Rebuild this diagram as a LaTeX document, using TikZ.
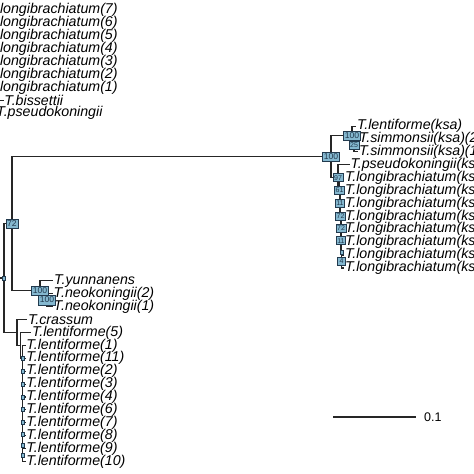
\documentclass[tikz,border=0pt]{standalone}
\usepackage{fontspec}
\setmainfont{Liberation Sans}
\definecolor{myboxblue}{RGB}{132,184,208}
\definecolor{myboxline}{RGB}{34,58,78}
\usetikzlibrary{positioning,calc}

\begin{document}
\begin{tikzpicture}[
  x=1pt, y=-1pt,
  branch/.style={draw=black!85, line width=1.1pt},
  taxon/.style={
    anchor=west,
    inner sep=0pt,
    font=\fontsize{14.2}{15}\selectfont\itshape
    },
  boot/.style={
    draw=myboxline,
    fill=myboxblue,
    line width=0.7pt,
    inner sep=1.2pt,
    text height=6.2pt,
    text depth=0.8pt,
    text=myboxline,
    font=\fontsize{8.6}{9}\selectfont
    },
  bootsm/.style={boot, inner sep=1pt, minimum width=8pt, text height=5.4pt, text depth=0.6pt, font=\fontsize{7}{7}\selectfont},
  tick/.style={draw=myboxline, fill=myboxblue, line width=0.6pt, inner sep=0pt, minimum width=3pt, minimum height=4pt}
]
\useasboundingbox (0,0) rectangle (474,474);
\clip (0,0) rectangle (474,474);

% taxa cut off at the left edge
\foreach \Num [count=\Rowi from 0] in {7,6,5,4,3,2,1}
  \node[taxon] (lbr\Num) at (-11.5, {10+12.9*\Rowi}) {T.longibrachiatum(\Num)};
\coordinate (bisin) at (-2,100.3);
\coordinate (bis) at (3.6,100.3);
\draw[branch] (bisin) -- (bis);
\node[taxon] (bislab) at (4.2,100.3) {T.bissettii};
\node[taxon] (pslab) at (-3.8,113.2) {T.pseudokoningii};

% backbone
\coordinate (rootin) at (-2,278);
\coordinate (root) at (4,278);
\coordinate (s72) at (12,223.6);
\coordinate (rr) at (331,156.7);
\coordinate (m100) at (40,290.6);
\coordinate (n1) at (17,332.5);
\draw[branch] (rootin) -- (root);
\draw[branch] (root) |- (s72);
\draw[branch] (root) |- (n1);
\draw[branch] (s72) |- (rr);
\draw[branch] (s72) |- (m100);

% right clade
\coordinate (r100) at (352,135.8);
\coordinate (r25) at (354,145.45);
\coordinate (tlk) at (356,126.1);
\coordinate (ts2) at (358,139);
\coordinate (ts1) at (358,151.9);
\coordinate (tpk) at (349.5,164.8);
\draw[branch] (rr) |- (r100);
\draw[branch] (r100) |- (tlk);
\draw[branch] (r100) |- (r25);
\draw[branch] (r25) |- (ts2);
\draw[branch] (r25) |- (ts1);

\foreach \Name/\X/\Y in {ra/338/177.6, rb/339.5/190.5, rc/340/203.3, rd/340.5/216,
  re/341/228.5, rf/341/240.6, rg/341.5/251.9, rh/341.5/261.55}
  \coordinate (\Name) at (\X,\Y);
\foreach \Tipi in {1,...,8}
  \coordinate (tlg\Tipi) at (344, {164.8+12.9*\Tipi});
\draw[branch] (rr) |- (ra);
\foreach \Here/\Up/\Down in {ra/tpk/rb, rb/tlg1/rc, rc/tlg2/rd, rd/tlg3/re,
  re/tlg4/rf, rf/tlg5/rg, rg/tlg6/rh, rh/tlg7/tlg8}
  \draw[branch] (\Here) |- (\Up) (\Here) |- (\Down);

\node[taxon] at ([xshift=0.8pt]tlk) {T.lentiforme(ksa)};
\node[taxon] at ([xshift=0.8pt]ts2) {T.simmonsii(ksa)(2)};
\node[taxon] at ([xshift=0.8pt]ts1) {T.simmonsii(ksa)(1)};
\node[taxon] at ([xshift=0.8pt]tpk) {T.pseudokoningii(ksa)};
\foreach \Tipi in {1,...,8}
  \node[taxon] at ([xshift=0.8pt]tlg\Tipi) {T.longibrachiatum(ksa)};

% middle clade
\coordinate (m100b) at (47,300.25);
\coordinate (tyn) at (53,280.9);
\coordinate (tnk2) at (53,293.8);
\coordinate (tnk1) at (53,306.7);
\draw[branch] (m100) |- (tyn);
\draw[branch] (m100) |- (m100b);
\draw[branch] (m100b) |- (tnk2);
\draw[branch] (m100b) |- (tnk1);
\node[taxon] at ([xshift=1pt]tyn) {T.yunnanens};
\node[taxon] at ([xshift=0.5pt]tnk2) {T.neokoningii(2)};
\node[taxon] at ([xshift=0.5pt]tnk1) {T.neokoningii(1)};

% bottom clade
\coordinate (n2) at (20.5,345.4);
\coordinate (tcr) at (27,319.6);
\coordinate (tl5) at (31,332.5);
\draw[branch] (n1) |- (tcr);
\draw[branch] (n1) |- (n2);
\draw[branch] (n2) |- (tl5);
\node[taxon] at ([xshift=0.8pt]tcr) {T.crassum};
\node[taxon] at ([xshift=0.8pt]tl5) {T.lentiforme(5)};

\foreach \Y [count=\Nodei] in {358.3,371.2,384,396.8,409.5,422,434.1,445.4,455}
  \coordinate (la\Nodei) at (22.5,\Y);
\foreach \Num [count=\Tipi from 0] in {1,11,2,3,4,6,7,8,9,10}
  \coordinate (tle\Num) at (25.5, {345.4+12.9*\Tipi});
\draw[branch] (n2) |- (la1);
\foreach \Here/\Up/\Down in {la1/tle1/la2, la2/tle11/la3, la3/tle2/la4, la4/tle3/la5,
  la5/tle4/la6, la6/tle6/la7, la7/tle7/la8, la8/tle8/la9, la9/tle9/tle10}
  \draw[branch] (\Here) |- (\Up) (\Here) |- (\Down);
\foreach \Num in {1,11,2,3,4,6,7,8,9,10}
  \node[taxon] at ([xshift=0.8pt]tle\Num) {T.lentiforme(\Num)};

% support boxes
\node[boot] (b72) at (s72) {72};
\node[boot] (b100r) at (rr) {100};
\node[boot] (b100k) at (r100) {100};
\node[bootsm] (b25) at (r25) {25};
\node[boot] (b100m) at (m100) {100};
\node[boot] (b100n) at (m100b) {100};
\foreach \Name/\Val in {ra/97, rb/61, rc/11, rd/72, re/72, rf/11, rh/4}
  \node[bootsm] (b\Name) at (\Name) {\Val};
\node[tick] (brg) at (rg) {};
\foreach \Nodei in {1,...,9}
  \node[tick] at (la\Nodei) {};
\node[tick] at (root) {};

% scale bar
\coordinate (sbl) at (333,417);
\coordinate (sbr) at (416,417);
\draw[branch] (sbl) -- (sbr);
\node[anchor=west, inner sep=0pt, font=\fontsize{12.5}{13}\selectfont] (sblab) at ([xshift=8pt]sbr) {0.1};
\end{tikzpicture}
\end{document}
